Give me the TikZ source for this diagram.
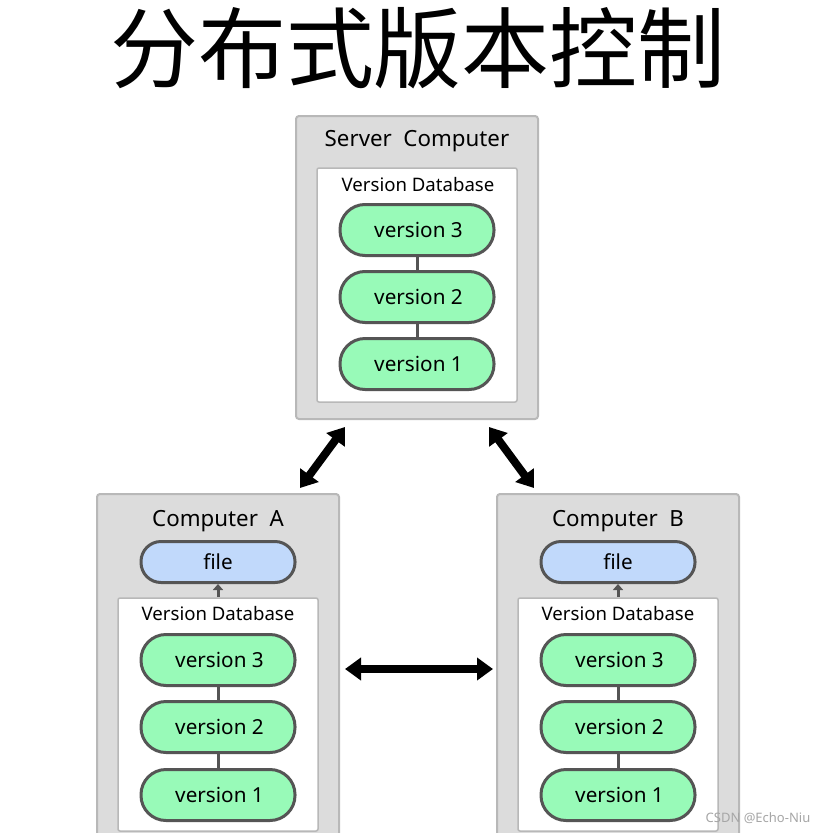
\documentclass[tikz,border=0pt]{standalone}
\usepackage{fontspec}
\setmainfont{Noto Sans}
\newfontfamily\cjk{Noto Sans CJK SC}
\usetikzlibrary{arrows.meta}
\definecolor{boxgray}{HTML}{DCDCDC}
\definecolor{boxedge}{HTML}{B8B8B8}
\definecolor{pillgreen}{HTML}{98FAB8}
\definecolor{pillblue}{HTML}{C1D9FB}
\definecolor{pilledge}{HTML}{555555}
\tikzset{
  machine/.style={draw=boxedge, fill=boxgray, line width=2pt, rounded corners=3pt},
  dbbox/.style={draw=boxedge, fill=white, line width=1.5pt, rounded corners=2pt},
  pill/.style={draw=pilledge, fill=pillgreen, line width=3pt, rounded corners=25pt,
     minimum width=154pt, minimum height=51pt, inner sep=0pt, font=\fontsize{20.7}{24}\selectfont},
  filepill/.style={pill, fill=pillblue, minimum height=41pt, rounded corners=20pt},
  boxtitle/.style={font=\fontsize{22.3}{26}\selectfont, inner sep=0pt},
  dbtitle/.style={font=\fontsize{18.6}{22}\selectfont, inner sep=0pt},
  link/.style={draw=pilledge, line width=3pt},
  sync/.style={line width=8pt, {Triangle[length=16pt,width=22pt]}-{Triangle[length=16pt,width=22pt]}},
  uparrow/.style={draw=pilledge, line width=3pt, -{Triangle[length=6pt,width=10pt]}}
}
\begin{document}
\begin{tikzpicture}[x=1pt,y=-1pt]
\clip (0,0) rectangle (823,833);
\fill[white] (0,0) rectangle (823,833);
% title
\node[font=\cjk\fontsize{88}{90}\selectfont, inner sep=0pt] (title) at (418,48) {分布式版本控制};
% server
\draw[machine] (296,116) rectangle (538,419);
\node[boxtitle] (srvt) at (417,141) {Server\ \ Computer};
\draw[dbbox] (317,168) rectangle (517,402);
\node[dbtitle] (srvdbt) at (418,185) {Version Database};
\node[pill] (s3) at (417,230) {\hspace{3pt}version 3};
\node[pill] (s2) at (417,297) {\hspace{3pt}version 2};
\node[pill] (s1) at (417,364) {\hspace{3pt}version 1};
\draw[link] (s3) -- (s2);
\draw[link] (s2) -- (s1);
\coordinate (srvA) at (345,427);
\coordinate (srvB) at (489,427);
% computer A
\draw[machine] (97,494) rectangle (339,850);
\node[boxtitle] (cat) at (218,521) {Computer\ \ A};
\node[filepill] (afile) at (218,562) {file};
\draw[dbbox] (118,598) rectangle (318,831);
\node[dbtitle] (adbt) at (218,614) {Version Database};
\node[pill] (a3) at (218,660) {\hspace{3pt}version 3};
\node[pill] (a2) at (218,727) {\hspace{3pt}version 2};
\node[pill] (a1) at (218,795) {\hspace{3pt}version 1};
\draw[link] (a3) -- (a2);
\draw[link] (a2) -- (a1);
\coordinate (adb) at (218,597);
\draw[uparrow] (adb) -- (afile);
\coordinate (aTop) at (300,488);
\coordinate (aRight) at (345,669);
% computer B
\draw[machine] (497,494) rectangle (739,850);
\node[boxtitle] (cbt) at (618,521) {Computer\ \ B};
\node[filepill] (bfile) at (618,562) {file};
\draw[dbbox] (518,598) rectangle (718,831);
\node[dbtitle] (bdbt) at (618,614) {Version Database};
\node[pill] (b3) at (618,660) {\hspace{3pt}version 3};
\node[pill] (b2) at (618,727) {\hspace{3pt}version 2};
\node[pill] (b1) at (618,795) {\hspace{3pt}version 1};
\draw[link] (b3) -- (b2);
\draw[link] (b2) -- (b1);
\coordinate (bdb) at (618,597);
\draw[uparrow] (bdb) -- (bfile);
\coordinate (bTop) at (534,488);
\coordinate (bLeft) at (493,669);
% sync arrows
\draw[sync] (srvA) -- (aTop);
\draw[sync] (srvB) -- (bTop);
\draw[sync] (aRight) -- (bLeft);
% watermark
\node[font=\fontsize{13}{15}\selectfont, text=gray!70, inner sep=0pt] (wm) at (758,818) {CSDN @Echo-Niu};
\end{tikzpicture}
\end{document}
